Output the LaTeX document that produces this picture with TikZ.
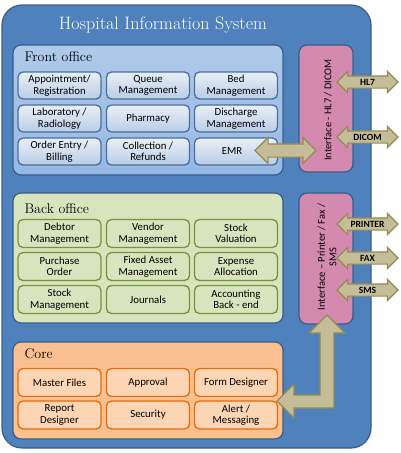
\documentclass[tikz,border=0pt]{standalone}
\usepackage{fontspec}
\setsansfont{Carlito}
\usetikzlibrary{shapes.arrows}
\definecolor{outerblue}{HTML}{4F81BD}
\definecolor{darkblue}{HTML}{385D8A}
\definecolor{frontpanel}{HTML}{95B8E3}
\definecolor{fronttop}{HTML}{E8EFF8}
\definecolor{frontbot}{HTML}{B9CDE5}
\definecolor{frontedge}{HTML}{4A6E9C}
\definecolor{backpanel}{HTML}{D7E4BD}
\definecolor{backbox}{HTML}{D7E4BD}
\definecolor{backedge}{HTML}{77933C}
\definecolor{corepanel}{HTML}{FAC090}
\definecolor{corebox}{HTML}{FCD5B5}
\definecolor{coreedge}{HTML}{E46C0A}
\definecolor{pink}{HTML}{D48AAE}
\definecolor{arrowfill}{HTML}{C4BD97}
\definecolor{arrowedge}{HTML}{948A54}
\tikzset{
  panel/.style={draw=darkblue, line width=1.2pt, rounded corners=8pt},
  fbox/.style={draw=frontedge, line width=1.3pt, rounded corners=5pt, top color=fronttop, bottom color=frontbot,
    minimum width=83pt, minimum height=27pt, align=center, inner sep=1pt, font=\sffamily\fontsize{10.8}{11.5}\selectfont},
  bbox/.style={fbox, draw=backedge, top color=backbox, bottom color=backbox},
  cbox/.style={fbox, draw=coreedge, top color=corebox, bottom color=corebox},
  ptitle/.style={anchor=west, font=\fontsize{14}{15}\selectfont},
  darrow/.style={shape=double arrow, draw=arrowedge, fill=arrowfill, line width=1.2pt,
    double arrow head extend=4.5pt, double arrow head indent=0pt, minimum height=61pt,
    text height=6.5pt, text depth=0pt, inner ysep=2.25pt, inner xsep=1pt,
    font=\sffamily\bfseries\fontsize{9.5}{10}\selectfont},
  iface/.style={rotate=90, align=center, font=\sffamily\fontsize{10.5}{11.5}\selectfont}
}
\begin{document}
\begin{tikzpicture}[x=1pt,y=-1pt]
\useasboundingbox (0,0) rectangle (400,453);
% outer
\draw[fill=outerblue, draw=darkblue, line width=1.2pt, rounded corners=20pt] (2,5) rectangle (371,448);
\node[font=\fontsize{18}{19}\selectfont, text=white] (title) at (163,25) {Hospital Information System};
% panels
\draw[panel, top color=frontpanel!75!white, bottom color=frontpanel] (13,45) rectangle (283,175);
\draw[panel, fill=backpanel] (13,193) rectangle (283,323);
\draw[panel, fill=corepanel] (13,342) rectangle (283,439);
\draw[panel, fill=pink] (299,45) rectangle (353,172);
\draw[panel, fill=pink] (299,193) rectangle (353,324);
\node[ptitle] (ft) at (21,57) {Front office};
\node[ptitle] (bt) at (21,209) {Back office};
\node[ptitle] (ct) at (21,354) {Core};
% front office boxes
\node[fbox] (f11) at (59.5,85.5) {Appointment/\\Registration};
\node[fbox] (f12) at (148,85.5) {Queue\\Management};
\node[fbox] (f13) at (236,85.5) {Bed\\Management};
\node[fbox] (f21) at (59.5,118.5) {Laboratory /\\Radiology};
\node[fbox] (f22) at (148,118.5) {Pharmacy};
\node[fbox] (f23) at (236,118.5) {Discharge\\Management};
\node[fbox] (f31) at (59.5,151.5) {Order Entry /\\Billing};
\node[fbox] (f32) at (148,151.5) {Collection /\\Refunds};
\node[fbox] (f33) at (236,151.5) {\hspace*{-4pt}EMR\hspace*{4pt}};
% back office boxes
\node[bbox, minimum height=28pt] (b11) at (59.5,233.5) {Debtor\\Management};
\node[bbox, minimum height=28pt] (b12) at (148,233.5) {Vendor\\Management};
\node[bbox, minimum height=28pt] (b13) at (236,233.5) {Stock\\Valuation};
\node[bbox, minimum height=28pt] (b21) at (59.5,266.5) {Purchase\\Order};
\node[bbox, minimum height=28pt] (b22) at (148,266.5) {Fixed Asset\\Management};
\node[bbox, minimum height=28pt] (b23) at (236,266.5) {Expense\\Allocation};
\node[bbox, minimum height=28pt] (b31) at (59.5,299.5) {Stock\\Management};
\node[bbox, minimum height=28pt] (b32) at (148,299.5) {Journals};
\node[bbox, minimum height=28pt] (b33) at (236,299.5) {Accounting\\Back - end};
% core boxes
\node[cbox, minimum height=28pt] (c11) at (59.5,382.5) {Master Files};
\node[cbox, minimum height=28pt] (c12) at (148,382.5) {Approval};
\node[cbox, minimum height=28pt] (c13) at (236,382.5) {Form Designer};
\node[cbox, minimum height=28pt] (c21) at (59.5,415) {Report\\Designer};
\node[cbox, minimum height=28pt] (c22) at (148,415) {Security};
\node[cbox, minimum height=28pt] (c23) at (236,415) {Alert /\\Messaging};
% interface labels
\node[iface] (i1) at (328,110) {Interface - HL7 / DICOM};
\node[iface] (i2) at (327,257) {Interface -- Printer / Fax /\\SMS};
% external arrows
\node[darrow] (hl7) at (367.5,82) {HL7};
\node[darrow] (dicom) at (367.5,137) {DICOM};
\node[darrow] (printer) at (367.5,224) {PRINTER};
\node[darrow] (fax) at (367.5,258) {FAX};
\node[darrow] (sms) at (367.5,290) {SMS};
% EMR arrow
\node[shape=double arrow, draw=arrowedge, fill=arrowfill, line width=1.2pt,
  double arrow head extend=6.5pt, double arrow head indent=0pt, minimum height=61pt,
  inner ysep=6pt, inner xsep=0pt] (emr) at (285.5,150.5) {};
% core L-arrow
\draw[draw=arrowedge, fill=arrowfill, line width=1.2pt, line join=miter]
  (327,315) -- (345,333) -- (334,333) -- (334,408) -- (294,408) -- (294,418) -- (277,401)
  -- (294,384) -- (294,395) -- (320,395) -- (320,333) -- (309,333) -- cycle;
\end{tikzpicture}
\end{document}
